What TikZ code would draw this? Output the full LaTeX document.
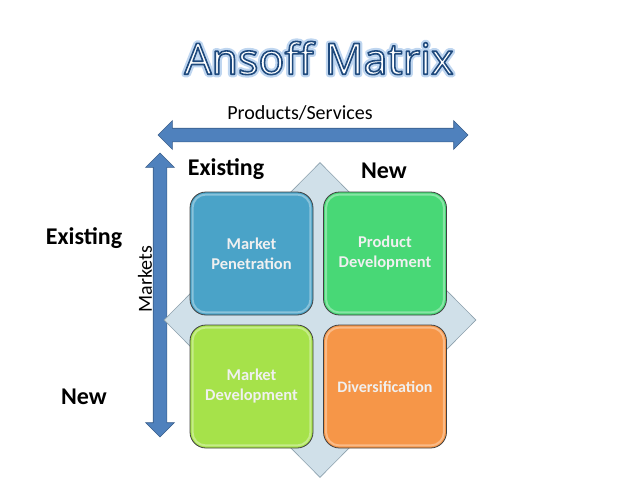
\documentclass[tikz,border=0pt]{standalone}
\usepackage{fontspec}
\setmainfont{Carlito}
\newfontfamily\titlefont{Open Sans}
\usetikzlibrary{shapes.arrows,shapes.geometric}
\definecolor{arrowblue}{RGB}{79,129,189}
\definecolor{arrowedge}{RGB}{56,93,138}
\definecolor{diamfill}{RGB}{208,224,233}
\definecolor{diamedge}{RGB}{140,160,172}
\definecolor{mpcol}{RGB}{74,163,200}
\definecolor{pdcol}{RGB}{72,216,118}
\definecolor{mdcol}{RGB}{166,226,74}
\definecolor{dvcol}{RGB}{246,150,72}
\begin{document}
\begin{tikzpicture}[x=1pt,y=-1pt,
  quad/.style={draw=black!75, line width=0.8pt, rounded corners=16pt,
    minimum width=123pt, minimum height=123pt, inner sep=0pt,
    align=center, font=\fontsize{16.5}{20}\selectfont\bfseries, text=white!94!black},
  biglabel/.style={font=\fontsize{24}{28}\selectfont\bfseries, inner sep=0pt},
  axislabel/.style={font=\fontsize{20}{24}\selectfont, inner sep=0pt},
  bigarrow/.style={double arrow, fill=arrowblue, draw=arrowedge, line width=0.6pt,
    inner sep=0pt, minimum width=28pt, double arrow head extend=7.5pt,
    double arrow tip angle=90}]
\useasboundingbox (0,0) rectangle (638,479);
% title: white letters with a dark blue outline and a light blue glow
\node (title) at (319,58) {\titlefont\fontsize{43}{48}\selectfont\color{white}%
  \special{pdf:code q 2 Tr 6 w 1 j 0.75 0.84 0.94 RG}\rlap{Ansoff Matrix}%
  \special{pdf:code 1.6 w 0.12 0.29 0.49 RG}Ansoff Matrix\special{pdf:code Q}};
% axes
\node[axislabel] (prod) at (300,113) {Products/Services};
\node[bigarrow, minimum height=310pt, inner ysep=6.5pt] (harrow) at (313,135) {};
\node[bigarrow, minimum height=284pt, inner ysep=6.5pt, rotate=90] (varrow) at (160,295) {};
\node[axislabel, rotate=90] (markets) at (145,279) {Markets};
% diamond
\node[diamond, fill=diamfill, draw=diamedge, line width=0.6pt, inner sep=0pt,
  minimum width=312pt, minimum height=315pt] (diam) at (320,320) {};
% labels
\node[biglabel] (exTop) at (226,169) {Existing};
\node[biglabel] (newTop) at (384,171) {New};
\node[biglabel] (exLeft) at (84,238) {Existing};
\node[biglabel] (newLeft) at (84,397) {New};
% quadrants
\node[quad, fill=mpcol] (mp) at (251.5,253.5) {Market\\Penetration};
\node[quad, fill=pdcol] (pd) at (385,253.5) {Product\\Development};
\node[quad, fill=mdcol] (md) at (251.5,386.5) {Market\\Development};
\node[quad, fill=dvcol, font=\fontsize{16}{20}\selectfont\bfseries] (dv) at (385,386.5) {Diversification};
\foreach \n in {mp,pd,md,dv}{
  \draw[white, opacity=0.35, line width=2pt, rounded corners=13pt]
    ([xshift=3pt,yshift=-3pt]\n.north west) rectangle ([xshift=-3pt,yshift=3pt]\n.south east);
}
\end{tikzpicture}
\end{document}
